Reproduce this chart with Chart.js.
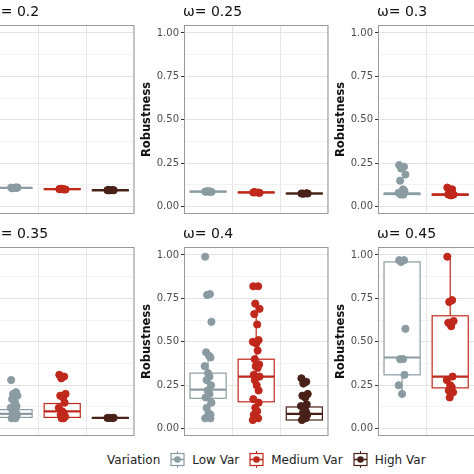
<!DOCTYPE html>
<html><head><meta charset="utf-8">
<script src="https://cdn.jsdelivr.net/npm/chart.js@4"></script>
<style>
body{margin:0;width:474px;height:474px;overflow:hidden;background:#fff;font-family:"DejaVu Sans",sans-serif;position:relative}
canvas{position:absolute}
#legend{position:absolute;top:451px;left:107px;font-size:12px;color:#222;display:flex;align-items:center;white-space:nowrap}
#legend .k{margin:0 7px 0 10px;display:inline-block;width:15px;height:17px}
</style></head><body>
<div id="legend"></div>
<script>
const panelTitles = ["ω= 0.2","ω= 0.25","ω= 0.3","ω= 0.35","ω= 0.4","ω= 0.45"];
const seriesNames = ["Low Var","Medium Var","High Var"];
const seriesColors = ["#8a9ba2","#c0281b","#4a2118"];
const yTicks = [0,0.25,0.5,0.75,1];
// box stats: [min, q1, median, q3, max] per panel
const boxLow  = [[.105,.106,.108,.110,.111],[.083,.085,.087,.089,.090],[.065,.070,.075,.078,.090],[.055,.065,.085,.110,.170],[.060,.175,.225,.320,.440],[.200,.310,.410,.960,.970]];
const boxMed  = [[.097,.099,.101,.103,.105],[.077,.080,.082,.084,.086],[.060,.066,.070,.073,.080],[.055,.065,.100,.145,.200],[.050,.155,.300,.400,.720],[.180,.235,.300,.650,.990]];
const boxHigh = [[.090,.092,.095,.097,.099],[.071,.074,.076,.078,.080],[.060,.062,.065,.067,.070],[.058,.060,.062,.064,.066],[.050,.050,.085,.125,.200],[.100,.200,.300,.500,.700]];
// jittered points per panel
const ptsLow  = [[.11,.11,.108,.11,.106,.11,.109],[.087,.086,.088,.085,.087,.089],[.24,.23,.22,.185,.15,.10,.09,.08,.075,.07,.07],[.28,.21,.2,.19,.17,.15,.13,.12,.11,.1,.09,.08,.07,.06,.06],[.99,.775,.77,.615,.44,.42,.41,.36,.32,.30,.28,.25,.22,.20,.18,.15,.12,.09,.08,.06,.06],[.97,.97,.96,.575,.40,.40,.31,.25,.20]];
const ptsMed  = [[.101,.1,.103,.099,.102,.1],[.082,.081,.083,.08,.084],[.11,.1,.08,.07,.07,.065,.07],[.31,.30,.29,.2,.19,.18,.15,.12,.1,.09,.08,.07,.06,.06],[.82,.82,.72,.69,.66,.60,.51,.50,.49,.45,.40,.37,.36,.35,.31,.30,.28,.25,.22,.17,.15,.12,.10,.08,.06,.05],[.99,.74,.73,.62,.61,.59,.30,.28,.25,.24,.22,.21,.18]];
const ptsHigh = [[.095,.096,.094,.095,.097],[.076,.077,.075,.076],[.065,.065,.066],[.062,.061,.062,.063],[.29,.27,.26,.20,.19,.18,.14,.13,.12,.10,.09,.08,.07,.06,.05],[.3,.3]];
const jitter = [-0.06,0.04,-0.02,0.07,-0.04,0.02,0.05,-0.07,0.0,0.03,-0.03,0.06,-0.01,0.03,-0.05,0.07,-0.03,0.01,0.05,-0.06,0.05,-0.02,0.02,-0.05,0.04,-0.07];

const lefts=[-54,140,334], tops=[0,222];
const boxes=[boxLow,boxMed,boxHigh], pts=[ptsLow,ptsMed,ptsHigh];

const deco={id:'deco',
 beforeDatasetsDraw(ch){
  const c=ch.ctx,a=ch.chartArea,x=ch.scales.x,y=ch.scales.y,p=ch.options.plugins.deco.panel;
  c.save();
  boxes.forEach((b,s)=>{
   const [mn,q1,md,q3,mx]=b[p];
   const cx=x.getPixelForValue(s+1),hw=x.getPixelForValue(s+1.375)-cx;
   c.strokeStyle=seriesColors[s];c.lineWidth=1.2;
   c.beginPath();c.moveTo(cx,y.getPixelForValue(q3));c.lineTo(cx,y.getPixelForValue(mx));
   c.moveTo(cx,y.getPixelForValue(q1));c.lineTo(cx,y.getPixelForValue(mn));c.stroke();
   const t=y.getPixelForValue(q3),bt=y.getPixelForValue(q1);
   c.fillStyle='#fff';c.fillRect(cx-hw,t,2*hw,bt-t);c.strokeRect(cx-hw,t,2*hw,bt-t);
   c.lineWidth=2.2;c.beginPath();c.moveTo(cx-hw,y.getPixelForValue(md));c.lineTo(cx+hw,y.getPixelForValue(md));c.stroke();
  });
  c.restore();
 },
 afterDraw(ch){
  const c=ch.ctx,a=ch.chartArea,p=ch.options.plugins.deco.panel;
  c.save();c.strokeStyle='#999';c.lineWidth=1;c.strokeRect(a.left+.5,a.top+.5,a.right-a.left-1,a.bottom-a.top-1);
  c.fillStyle='#111';c.font='14px "DejaVu Sans"';c.textBaseline='middle';c.fillText(panelTitles[p],a.left-1,12);
  c.restore();
 }};

for(let p=0;p<6;p++){
 const cv=document.createElement('canvas');
 cv.style.left=lefts[p%3]+'px';cv.style.top=tops[Math.floor(p/3)]+'px';
 cv.style.width='193px';cv.style.height='222px';
 document.body.appendChild(cv);
 const datasets=pts.map((arr,s)=>({data:arr[p].map((v,i)=>({x:s+1+jitter[i%jitter.length],y:v})),
   backgroundColor:seriesColors[s],borderColor:seriesColors[s],pointRadius:3.6,pointHoverRadius:3.6}));
 new Chart(cv,{type:'scatter',data:{datasets},plugins:[deco],
  options:{responsive:false,animation:false,devicePixelRatio:1,
   layout:{padding:{top:25,right:2,bottom:1}},
   plugins:{legend:{display:false},tooltip:{enabled:false},deco:{panel:p}},
   scales:{
    x:{type:'linear',min:0.5,max:3.5,ticks:{display:false,stepSize:1},border:{display:false},
       grid:{color:'#e6e6e6',drawTicks:false},afterFit(s){s.height=0;}},
    y:{type:'linear',min:-0.042,max:1.046,border:{display:false},
       afterBuildTicks(s){s.ticks=[0,.125,.25,.375,.5,.625,.75,.875,1].map(v=>({value:v}));},
       ticks:{color:'#4d4d4d',font:{size:10,family:'"DejaVu Sans"'},padding:2,
         callback:v=>yTicks.some(t=>Math.abs(t-v)<1e-6)?v.toFixed(2):''},
       grid:{color:c=>yTicks.some(t=>Math.abs(t-c.tick.value)<1e-6)?'#e3e3e3':'#f2f2f2',
         tickLength:3,tickColor:c=>yTicks.some(t=>Math.abs(t-c.tick.value)<1e-6)?'#333':'rgba(0,0,0,0)'},
       title:{display:true,text:'Robustness',color:'#111',font:{size:11.5,weight:'bold',family:'"DejaVu Sans"'},padding:{top:0,bottom:2}},
       afterFit(s){s.width=44;}}
   }}});
}
const lg=document.getElementById('legend');
let h='<span>Variation</span>';
seriesNames.forEach((n,i)=>{const c=seriesColors[i];
 h+=`<svg class="k" viewBox="0 0 15 17"><line x1="7.5" y1="0" x2="7.5" y2="17" stroke="${c}" stroke-width="1"/><rect x="1" y="2.5" width="13" height="12" fill="#fff" stroke="${c}" stroke-width="1.2"/><line x1="1" y1="8.5" x2="14" y2="8.5" stroke="${c}" stroke-width="1.5"/><circle cx="7.5" cy="8.5" r="3.3" fill="${c}"/></svg><span>${n}</span>`;});
lg.innerHTML=h;
</script></body></html>
